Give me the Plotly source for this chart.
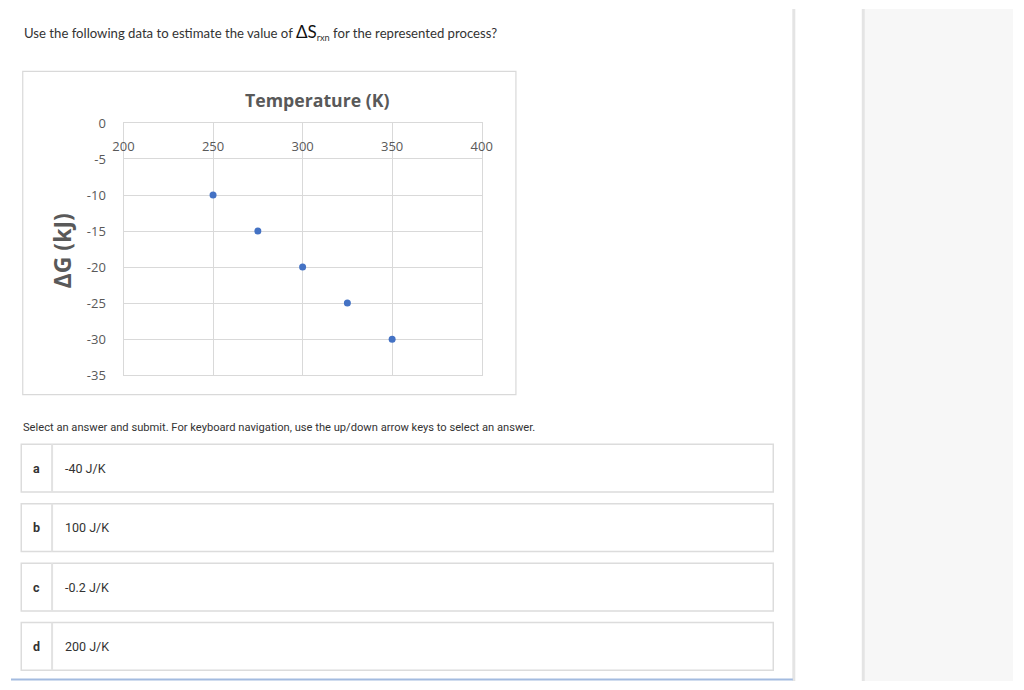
import plotly.graph_objects as go

# chart data
temps = [250, 275, 300, 325, 350]
delta_g = [-10, -15, -20, -25, -30]
x_ticks = [200, 250, 300, 350, 400]
y_ticks = [0, -5, -10, -15, -20, -25, -30, -35]
y_tick_labels = ["0", "-5", "-10", "-15", "-20", "-25", "-30", "-35"]

# quiz text
question = ("Use the following data to estimate the value of "
            "<span style='font-size:17px;color:#111'>ΔS</span><sub>rxn</sub> for the represented process?")
instructions = "Select an answer and submit. For keyboard navigation, use the up/down arrow keys to select an answer."
letters = ["a", "b", "c", "d"]
answers = ["-40 J/K", "100 J/K", "-0.2 J/K", "200 J/K"]

W, H = 1024, 690
def px(x): return x / W
def py(y): return 1 - y / H

grid = "#d9d9d9"
txt = "#595959"

fig = go.Figure()
fig.add_trace(go.Scatter(x=temps, y=delta_g, mode="markers",
    marker=dict(color="#4472C4", size=7), showlegend=False))

shapes = []
# page side panels
shapes.append(dict(type="rect", xref="paper", yref="paper", x0=px(871), x1=1, y0=0, y1=1,
    fillcolor="#f7f7f7", line_width=0, layer="below"))
for xs in [800, 871]:
    shapes.append(dict(type="line", xref="paper", yref="paper", x0=px(xs), x1=px(xs), y0=0, y1=1,
        line=dict(color="#e4e4e4", width=3), layer="below"))
shapes.append(dict(type="line", xref="paper", yref="paper", x0=0, x1=px(799), y0=py(688.5), y1=py(688.5),
    line=dict(color="#a3bbe0", width=2), layer="below"))
# chart frame
shapes.append(dict(type="rect", xref="paper", yref="paper", x0=px(12), x1=px(516), y0=py(396), y1=py(64),
    line=dict(color=grid, width=1.2), layer="below"))

body = dict(family="Liberation Sans Narrow, Roboto", size=12.5, color="#333333")
annotations = [
    dict(text=question, x=px(11), y=py(24), xanchor="left", yanchor="middle",
         font=dict(family="Lato", size=13.15, color="#333333")),
    dict(text="<b>Temperature (K)</b>", x=px(313), y=py(93), xanchor="center", yanchor="middle",
         font=dict(family="Open Sans", size=17.7, color=txt)),
    dict(text="<b>ΔG (kJ)</b>", x=px(52), y=py(248), xanchor="center", yanchor="middle", textangle=-90,
         font=dict(family="Open Sans", size=23, color=txt)),
    dict(text=instructions, x=px(10), y=py(430), xanchor="left", yanchor="middle",
         font=dict(family="Liberation Sans Narrow, Roboto", size=11.15, color="#333333")),
]

box_top = 447
for i, (let, ans) in enumerate(zip(letters, answers)):
    y0 = box_top + i * 61
    y1 = y0 + 49
    shapes.append(dict(type="rect", xref="paper", yref="paper", x0=px(10.5), x1=px(779), y0=py(y1), y1=py(y0),
        line=dict(color="#dcdcdc", width=1.5), layer="below"))
    shapes.append(dict(type="line", xref="paper", yref="paper", x0=px(42), x1=px(42), y0=py(y1), y1=py(y0),
        line=dict(color="#e2e2e2", width=2), layer="below"))
    annotations.append(dict(text="<b>" + let + "</b>", x=px(26), y=py((y0 + y1) / 2),
        xanchor="center", yanchor="middle", font=body))
    annotations.append(dict(text=ans, x=px(53), y=py((y0 + y1) / 2), xanchor="left", yanchor="middle",
        font=body))

for a in annotations:
    a.update(xref="paper", yref="paper", showarrow=False)

tick_font = dict(family="Open Sans", size=13, color=txt)
fig.update_layout(
    width=W, height=H, margin=dict(l=0, r=0, t=0, b=0),
    paper_bgcolor="white", plot_bgcolor="rgba(0,0,0,0)",
    shapes=shapes, annotations=annotations,
    xaxis=dict(domain=[px(115), px(481)], range=[200, 400], tickvals=x_ticks, showticklabels=False,
               showgrid=True, gridcolor=grid, showline=True, mirror=True, linecolor=grid, zeroline=False),
    # labels hang just below the axis line at y = 0, like the spreadsheet chart
    xaxis2=dict(overlaying="x", matches="x", anchor="free", position=py(117), side="bottom",
                tickvals=x_ticks, showgrid=False, showline=False, zeroline=False,
                ticklabelstandoff=14, tickfont=tick_font),
    yaxis=dict(domain=[py(376), py(117)], range=[-35, 0], tickvals=y_ticks, ticktext=y_tick_labels,
               ticklabelstandoff=14,
               showgrid=True, gridcolor=grid, showline=True, mirror=True, linecolor=grid,
               zeroline=False, tickfont=tick_font),
)
# invisible carrier so the label axis is drawn
fig.add_trace(go.Scatter(x=[x_ticks[0]], y=[y_ticks[0]], xaxis="x2", mode="markers",
    marker=dict(opacity=0), hoverinfo="skip", showlegend=False))

fig.write_html("out.html", config={"displayModeBar": False},
    post_script="document.body.style.margin='0';document.body.style.overflow='hidden';"
                "document.documentElement.style.overflow='hidden';")
